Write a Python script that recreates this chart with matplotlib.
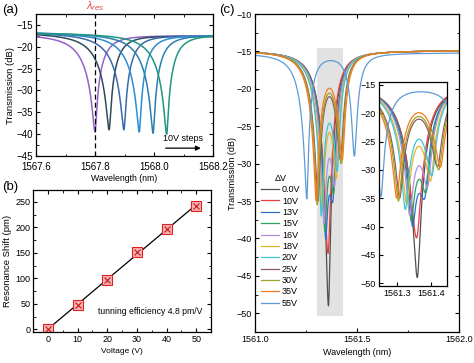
import numpy as np
import matplotlib
matplotlib.use('Agg')
import matplotlib.pyplot as plt
from matplotlib.ticker import MultipleLocator, FormatStrFormatter
from matplotlib.patches import Rectangle

plt.rcParams['font.family'] = ['Liberation Sans', 'DejaVu Sans']
plt.rcParams['mathtext.fontset'] = 'custom'
plt.rcParams['mathtext.it'] = 'Liberation Sans:italic'
plt.rcParams['mathtext.rm'] = 'Liberation Sans'

# ---- (a) resonance, one dip per 10 V step
a_center = [1567.800, 1567.848, 1567.898, 1567.950, 1567.997, 1568.043]
a_min_db = [-39.5, -39.0, -39.0, -39.5, -39.8, -40.0]
a_base_left = [-17.1, -16.8, -16.7, -16.7, -16.7, -16.8]
a_base_right = [-17.5, -17.6, -17.5, -17.4, -17.3, -17.2]
a_colors = ['#9561c9', '#2f4c5c', '#3a6aaa', '#2b8dd2', '#2d7db0', '#1f9780']
a_gl, a_gr = 0.08, 0.05   # half widths left / right of the dip (nm)

# ---- (b) resonance shift vs voltage
volt = [0, 10, 20, 30, 40, 50]
shift = [0, 48, 97, 152, 196, 241]

# ---- (c) split resonances: left / right dip position, depth, inner half width
c_labels = ['0.0V', '10V', '13V', '15V', '16V', '18V', '20V', '25V', '30V', '35V', '55V']
c_colors = ['#505050', '#e8413d', '#2c6fcf', '#2ca25f', '#b48ee6', '#e6b422',
            '#3cc6d6', '#8c5a64', '#a3a323', '#f47a20', '#5d9bd6']
c_xl = [1561.360, 1561.358, 1561.346, 1561.342, 1561.3375, 1561.329, 1561.325, 1561.3085, 1561.305, 1561.300, 1561.254]
c_xr = [1561.360, 1561.358, 1561.382, 1561.386, 1561.3905, 1561.399, 1561.403, 1561.4195, 1561.423, 1561.428, 1561.487]
c_dl = [-49.0, -42.0, -40.0, -39.0, -38.0, -36.0, -37.0, -35.0, -35.5, -35.0, -34.7]
c_dr = [-49.0, -42.0, -35.0, -34.0, -33.0, -32.0, -31.0, -29.5, -30.0, -29.5, -29.0]
c_gin = [0.058, 0.058, 0.058, 0.058, 0.058, 0.058, 0.058, 0.058, 0.058, 0.058, 0.042]
c_base = [-14.9, -14.9, -14.9, -14.9, -14.9, -14.9, -14.9, -14.9, -14.9, -14.9, -15.2]
c_gout_l, c_gout_r = 0.068, 0.04


def lorentz(x, x0, g):
    return g ** 2 / ((x - x0) ** 2 + g ** 2)


def dip_a(x, x0, dmin, b0, b1):
    base = b0 + (b1 - b0) * (x - x[0]) / (x[-1] - x[0])
    base0 = np.interp(x0, x, base)
    amp = 1 - 10 ** ((dmin - base0) / 10)
    g = np.where(x < x0, a_gl, a_gr)
    return base + 10 * np.log10(1 - amp * lorentz(x, x0, g))


def split_dip(x, xl, xr, dl, dr, base, gin):
    tl = 10 ** ((dl - base) / 10)
    tr = 10 ** ((dr - base) / 10)
    if abs(xr - xl) < 1e-9:
        al = ar = np.sqrt(tl)
    else:
        al, ar = tl, tr
        for _ in range(200):
            al = tl / (1 - (1 - ar) * lorentz(xl, xr, gin))
            ar = tr / (1 - (1 - al) * lorentz(xr, xl, gin))
    g1 = np.where(x < xl, c_gout_l, gin)
    g2 = np.where(x > xr, c_gout_r, gin)
    t = (1 - (1 - al) * lorentz(x, xl, g1)) * (1 - (1 - ar) * lorentz(x, xr, g2))
    return base + 10 * np.log10(t)


def style(ax, fs):
    ax.tick_params(which='both', direction='in', top=True, right=True, labelsize=fs, pad=2)
    ax.tick_params(which='major', length=3, width=0.8)
    ax.tick_params(which='minor', length=1.8, width=0.6)
    for s in ax.spines.values():
        s.set_linewidth(0.9)


fig = plt.figure(figsize=(4.74, 3.63), dpi=100)
W, H = 474, 363
ax_a = fig.add_axes([36 / W, 1 - 156 / H, 177 / W, 142 / H])
ax_b = fig.add_axes([33 / W, 1 - 332 / H, 178 / W, 142 / H])
ax_c = fig.add_axes([255 / W, 1 - 332 / H, 204 / W, 318 / H])
ax_in = fig.add_axes([379 / W, 1 - 286 / H, 68 / W, 204 / H])

# (a)
wa = np.linspace(1567.6, 1568.2, 1501)
for i in range(len(a_center)):
    ax_a.plot(wa, dip_a(wa, a_center[i], a_min_db[i], a_base_left[i], a_base_right[i]),
              color=a_colors[i], lw=1.1)
ax_a.axvline(1567.8, color='k', lw=0.9, ls=(0, (4, 2.5)))
ax_a.text(1567.8, 1.005, r'$\lambda_{res}$', color='#e04a4a', fontsize=8,
          ha='center', va='bottom', transform=ax_a.get_xaxis_transform())
ax_a.annotate('', xy=(1568.168, -43.2), xytext=(1568.03, -43.2),
              arrowprops=dict(arrowstyle='-|>', color='k', lw=0.9, mutation_scale=7))
ax_a.text(1568.10, -41.0, '10V steps', fontsize=6.5, ha='center', va='center')
ax_a.set_xlim(1567.6, 1568.2)
ax_a.set_ylim(-45, -12.5)
ax_a.xaxis.set_major_locator(MultipleLocator(0.2))
ax_a.xaxis.set_minor_locator(MultipleLocator(0.1))
ax_a.yaxis.set_major_locator(MultipleLocator(5))
ax_a.yaxis.set_minor_locator(MultipleLocator(2.5))
ax_a.xaxis.set_major_formatter(FormatStrFormatter('%.1f'))
ax_a.set_xlabel('Wavelength (nm)', fontsize=6.3, labelpad=2)
ax_a.set_ylabel('Transmission (dB)', fontsize=6.8, labelpad=1)
style(ax_a, 7.0)
ax_a.tick_params(axis='x', pad=4)

# (b)
k, b0 = np.polyfit(volt, shift, 1)
vfit = np.array([volt[0], volt[-1]])
ax_b.plot(vfit, k * vfit + b0, color='k', lw=0.9)
ax_b.plot(volt, shift, 's', ms=6.5, mfc='#f8b4b4', mec='#e02020', mew=0.8)
ax_b.plot(volt, shift, 'x', ms=5, color='#c81818', mew=0.8)
ax_b.text(34.5, 36, 'tunning efficiency 4.8 pm/V', fontsize=6.2, ha='center', va='center')
ax_b.set_xlim(-5, 55)
ax_b.set_ylim(-5, 273)
ax_b.xaxis.set_major_locator(MultipleLocator(10))
ax_b.xaxis.set_minor_locator(MultipleLocator(5))
ax_b.yaxis.set_major_locator(MultipleLocator(50))
ax_b.yaxis.set_minor_locator(MultipleLocator(25))
ax_b.set_xlabel('Voltage (V)', fontsize=6.0, labelpad=3)
ax_b.set_ylabel('Resonance Shift (pm)', fontsize=6.8, labelpad=2)
style(ax_b, 6.5)

# (c)
wc = np.linspace(1561.0, 1562.0, 4001)
ax_c.add_patch(Rectangle((1561.306, -50.4), 0.124, 35.8, color='#e2e2e2', lw=0, zorder=0))
for i in range(len(c_labels)):
    yc = split_dip(wc, c_xl[i], c_xr[i], c_dl[i], c_dr[i], c_base[i], c_gin[i])
    ax_c.plot(wc, yc, color=c_colors[i], lw=0.9, label=c_labels[i])
    ax_in.plot(wc, yc, color=c_colors[i], lw=0.9)
ax_c.set_xlim(1561.0, 1562.0)
ax_c.set_ylim(-52.5, -10)
ax_c.xaxis.set_major_locator(MultipleLocator(0.5))
ax_c.xaxis.set_minor_locator(MultipleLocator(0.25))
ax_c.yaxis.set_major_locator(MultipleLocator(5))
ax_c.yaxis.set_minor_locator(MultipleLocator(2.5))
ax_c.xaxis.set_major_formatter(FormatStrFormatter('%.1f'))
ax_c.set_xlabel('Wavelength (nm)', fontsize=6.5, labelpad=3)
ax_c.set_ylabel('Transmission (dB)', fontsize=6.5, labelpad=0)
style(ax_c, 6.5)
leg = ax_c.legend(loc='upper left', bbox_to_anchor=(0.03, 0.497), frameon=False,
                  fontsize=6.5, title='ΔV', title_fontsize=6.5, handlelength=2.0,
                  handletextpad=0.3, labelspacing=0.26, borderpad=0, borderaxespad=0)

ax_in.set_xlim(1561.248, 1561.447)
ax_in.set_ylim(-50.5, -14.5)
ax_in.set_xticks([1561.3, 1561.4])
ax_in.xaxis.set_major_formatter(FormatStrFormatter('%.1f'))
ax_in.yaxis.set_major_locator(MultipleLocator(5))
ax_in.set_facecolor('white')
style(ax_in, 6.5)
ax_in.tick_params(which='both', top=False, right=False)

fig.text(2 / W, 1 - 10 / H, '(a)', fontsize=9.5, ha='left', va='center')
fig.text(2 / W, 1 - 187 / H, '(b)', fontsize=9.5, ha='left', va='center')
fig.text(219 / W, 1 - 10 / H, '(c)', fontsize=9.5, ha='left', va='center')

fig.savefig('out.png', dpi=100)
